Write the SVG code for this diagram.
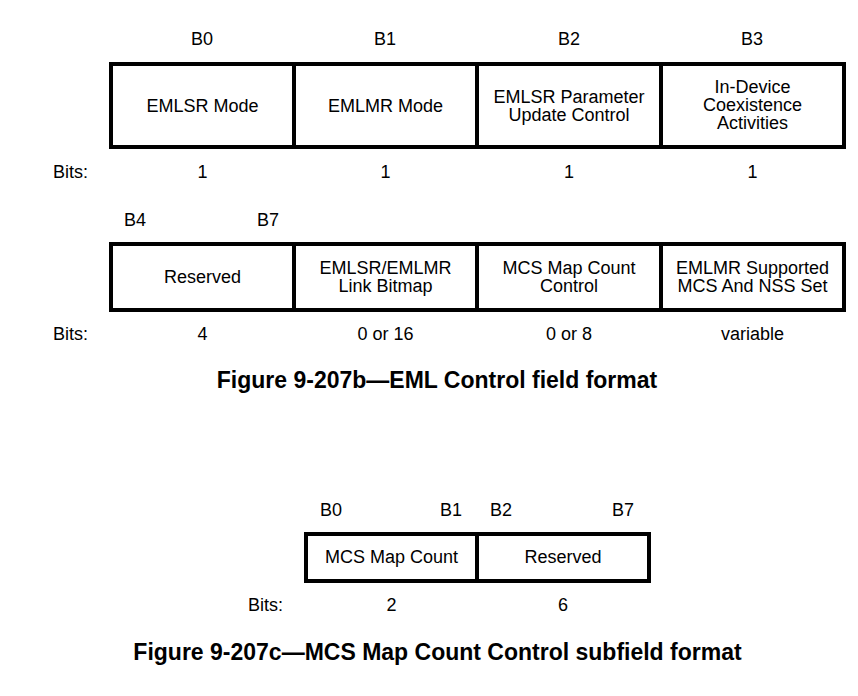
<svg xmlns="http://www.w3.org/2000/svg" width="858" height="696" viewBox="0 0 858 696">
<style>
.t{font-family:"Liberation Sans",Arial,sans-serif;font-size:18px;fill:#000;text-anchor:middle}
.l{font-family:"Liberation Sans",Arial,sans-serif;font-size:18px;fill:#000}
.cap{font-family:"Liberation Sans",Arial,sans-serif;font-size:23px;font-weight:bold;fill:#000;text-anchor:middle}
.box{fill:#fff;stroke:#000;stroke-width:4}
.div{stroke:#000;stroke-width:4}
</style>
<rect width="858" height="696" fill="#fff"/>
<g id="fig-b-row1">
  <text class="t" x="202" y="45">B0</text>
  <text class="t" x="385" y="45">B1</text>
  <text class="t" x="569" y="45">B2</text>
  <text class="t" x="752" y="45">B3</text>
  <rect class="box" x="111" y="64" width="733" height="83"/>
  <g id="emlsr-mode"><text class="t" x="202.5" y="112">EMLSR Mode</text></g>
  <g id="emlmr-mode"><text class="t" x="385.5" y="112">EMLMR Mode</text></g>
  <g id="emlsr-param"><text class="t" x="569" y="103">EMLSR Parameter</text><text class="t" x="569" y="121">Update Control</text></g>
  <g id="idc"><text class="t" x="752.5" y="93">In-Device</text><text class="t" x="752.5" y="111">Coexistence</text><text class="t" x="752.5" y="129">Activities</text></g>
  <line class="div" x1="294" y1="64" x2="294" y2="147"/>
  <line class="div" x1="477" y1="64" x2="477" y2="147"/>
  <line class="div" x1="661" y1="64" x2="661" y2="147"/>
  <text class="l" x="53" y="178">Bits:</text>
  <text class="t" x="202.5" y="178">1</text>
  <text class="t" x="385.5" y="178">1</text>
  <text class="t" x="569" y="178">1</text>
  <text class="t" x="752.5" y="178">1</text>
</g>
<g id="fig-b-row2">
  <text class="t" x="135" y="226">B4</text>
  <text class="t" x="268" y="226">B7</text>
  <rect class="box" x="111" y="244" width="733" height="66"/>
  <g id="reserved"><text class="t" x="202.5" y="283">Reserved</text></g>
  <g id="link-bitmap"><text class="t" x="385.5" y="274">EMLSR/EMLMR</text><text class="t" x="385.5" y="292">Link Bitmap</text></g>
  <g id="mcs-map-count-control"><text class="t" x="569" y="274">MCS Map Count</text><text class="t" x="569" y="292">Control</text></g>
  <g id="emlmr-mcs-nss"><text class="t" x="752.5" y="274">EMLMR Supported</text><text class="t" x="752.5" y="292">MCS And NSS Set</text></g>
  <line class="div" x1="294" y1="244" x2="294" y2="310"/>
  <line class="div" x1="477" y1="244" x2="477" y2="310"/>
  <line class="div" x1="661" y1="244" x2="661" y2="310"/>
  <text class="l" x="53" y="340">Bits:</text>
  <text class="t" x="202.5" y="340">4</text>
  <text class="t" x="385.5" y="340">0 or 16</text>
  <text class="t" x="569" y="340">0 or 8</text>
  <text class="t" x="752.5" y="340">variable</text>
</g>
<text class="cap" x="437" y="388">Figure 9-207b—EML Control field format</text>
<g id="fig-c">
  <text class="t" x="331" y="516">B0</text>
  <text class="t" x="451" y="516">B1</text>
  <text class="t" x="501" y="516">B2</text>
  <text class="t" x="623" y="516">B7</text>
  <rect class="box" x="306" y="534" width="343" height="47"/>
  <g id="mcs-map-count"><text class="t" x="391.5" y="563">MCS Map Count</text></g>
  <g id="reserved-c"><text class="t" x="563" y="563">Reserved</text></g>
  <line class="div" x1="477" y1="534" x2="477" y2="581"/>
  <text class="l" x="248" y="611">Bits:</text>
  <text class="t" x="391.5" y="611">2</text>
  <text class="t" x="563" y="611">6</text>
</g>
<text class="cap" x="437.5" y="660">Figure 9-207c—MCS Map Count Control subfield format</text>
</svg>
